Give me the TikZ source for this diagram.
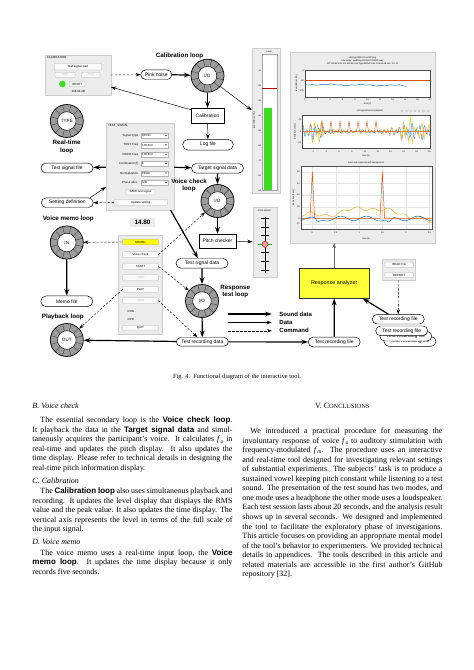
\documentclass[tikz,border=0pt]{standalone}
\usepackage{fontspec}
\setmainfont{Liberation Serif}
\setsansfont{Liberation Sans}
\usetikzlibrary{arrows.meta,positioning,shapes.misc,calc}
\newlength{\px}
\setlength{\px}{1.2553pt}
\definecolor{panelgray}{HTML}{ECECEC}
\definecolor{panelline}{HTML}{CCCCCC}
\definecolor{ringgray}{HTML}{9C9C9C}
\definecolor{analyzer}{HTML}{FFFF3A}
\definecolor{memoyellow}{HTML}{FFFF00}
\definecolor{levelgreen}{HTML}{3CDC1E}
\definecolor{plotblue}{HTML}{0072BD}
\definecolor{plotorange}{HTML}{EDB120}
\definecolor{plotred}{HTML}{D95319}
\newcommand{\fsub}[1]{\textit{f}\kern0.3pt\raisebox{-0.35ex}{\fontsize{7}{8}\selectfont\textit{#1}}}
\tikzset{
  guifont/.style={font=\sffamily\fontsize{3.7}{4.2}\selectfont},
  filebox/.style={rounded rectangle, draw, line width=0.6pt, fill=white,
    minimum width=52\px, minimum height=9.6\px, inner sep=0pt,
    font=\sffamily\fontsize{6.2}{7}\selectfont},
  procbox/.style={rectangle, draw, line width=0.6pt, fill=white, inner sep=0pt,
    font=\sffamily\fontsize{6.2}{7}\selectfont},
  ringline/.style={line width=0.5pt, draw=black!75},
  ioring/.style={circle, draw, line width=0.9pt, fill=ringgray, minimum size=33\px,
    inner sep=0pt, font=\sffamily\fontsize{5.8}{6}\selectfont,
    path picture={
      \foreach \a in {15,45,...,345}
        \draw[ringline] (path picture bounding box.center) ++(\a:9.3\px) -- ++(\a:8\px);
      \draw[line width=0.6pt, fill=white] (path picture bounding box.center) circle (9.3\px);
    }},
  looplabel/.style={inner sep=0pt, align=center, font=\sffamily\bfseries\fontsize{7.8}{9.3}\selectfont},
  panel/.style={rectangle, draw=panelline, line width=0.4pt, fill=panelgray, inner sep=0pt},
  guibtn/.style={rectangle, rounded corners=0.8pt, draw=gray!65, fill=gray!4, line width=0.3pt,
    inner sep=0pt, minimum height=5.7\px, guifont},
  guitext/.style={inner sep=0pt, guifont},
  dropbox/.style={rectangle, draw=gray!60, fill=white, line width=0.3pt, minimum height=5.3\px,
    text width=25\px, inner xsep=1.3\px, inner ysep=0pt, align=left, guifont},
  plottext/.style={inner sep=0pt, font=\sffamily\fontsize{2.8}{3.2}\selectfont},
  legendlab/.style={inner sep=0pt, anchor=west, font=\sffamily\bfseries\fontsize{7.5}{9}\selectfont},
  sound/.style={-{Stealth[length=8.5pt, width=6pt]}, line width=1.5pt},
  data/.style={-{Stealth[length=6.5pt, width=4.6pt]}, line width=0.6pt},
  command/.style={-{Stealth[length=6pt, width=4.2pt]}, line width=0.5pt, densely dashed},
  para/.style={anchor=north west, inner sep=0pt, text width=200\px, align=justify,
    font=\fontsize{10}{12}\selectfont},
  headtext/.style={anchor=base west, inner sep=0pt, font=\fontsize{10}{12}\selectfont\itshape}
}
\begin{document}
\begin{tikzpicture}[x=1.2553pt, y=-1.2553pt,
  declare function={
    bump(\u,\c,\w)=1/(1+((\u-\c)/\w)*((\u-\c)/\w)*((\u-\c)/\w)*((\u-\c)/\w));
    lor(\u,\c,\w)=1/(1+((\u-\c)/\w)*((\u-\c)/\w));
  }]
\fill[white] (0,0) rectangle (474,670);
\useasboundingbox (0,0) rectangle (474,670);

% calibration loop
\node[panel, minimum width=65.7\px, minimum height=40\px] (calpanel) at (77.9,75) {};
\node[guitext, anchor=west] (caltitle) at (46.7,57.5) {CALIBRATION};
\node[guibtn, minimum width=47.4\px, minimum height=6.7\px] (tsstart) at (78,66.7) {Test signal start};
\node[guibtn, text=gray!55, minimum width=20\px, minimum height=5\px] (calplay) at (65,74.8) {Start};
\node[guibtn, text=gray!55, minimum width=18.3\px, minimum height=5\px] (calstop) at (90.8,74.8) {Stop};
\node[circle, fill=levelgreen, minimum size=6.6\px, inner sep=0pt] (lamp) at (62.3,84) {};
\node[guibtn, minimum width=15.7\px, minimum height=5.4\px] (reset) at (77.2,84) {RESET};
\node[guitext] (calval) at (78.3,91) {108.64 dB};

\node[looplabel] (callab) at (179.5,55.7) {Calibration loop};
\node[filebox, minimum width=31\px] (pink) at (156.3,74.7) {Pink noise};
\node[ioring] (calio) at (207.5,75.7) {I/O};
\node[procbox, minimum width=33\px, minimum height=15\px] (calib) at (207.5,115.8) {Calibration};
\node[filebox, minimum width=50.7\px, minimum height=10.7\px] (logfile) at (208,144.7) {Log file};

% level display
\node[panel, minimum width=28.3\px, minimum height=145\px] (meter) at (265.9,120.5) {};
\fill[white] (261.7,54) rectangle (276.7,190.4);
\fill[levelgreen] (264.3,108.3) rectangle (271.7,190.4);
\draw[gray!70, line width=0.3pt] (261.7,54) rectangle (276.7,190.4);
\draw[red!75!black, line width=0.8pt] (261.7,88.3) -- (276.7,88.3);
\node[plottext] (metertitle) at (269.2,51.2) {Level};
\foreach \v [count=\i] in {-10,-20,-30,-40,-50,-60,-70,-80,-90} {
  \draw[gray!70, line width=0.3pt] (261.7,{56.3+14.9*\i}) -- ++(1.5,0);
  \node[plottext, anchor=east] at (261.2,{56.3+14.9*\i}) {\v};
}
\node[plottext, rotate=90] (meterylab) at (254.2,120.5) {level (dB rel. FS)};

% analysis plots
\node[panel, minimum width=145\px, minimum height=190.4\px] (plots) at (362.5,147.5) {};
\node[plottext] at (362.5,57.8) {Hilsinger/MD-CO-A7KP.png};
\node[plottext] at (362.5,61.1) {File name: audResp20211117000001.wav};
\node[plottext] at (362.5,64.4) {IUT:130.813 Hz Vol:130.813 Hz Type:MPND CAL:108.64 dB Set: 2 0 10};
\fill[white] (305,70) rectangle (430,96.7);
\draw[plotred, line width=0.6pt] (305,80) -- (430,80);
\draw[plotblue, line width=0.6pt] plot[domain=305:406.7, samples=80]
  (\x,{84.4+0.5*sin(11*(\x-305))+0.3*sin(37*(\x-305))+0.012*(\x-305)});
\draw[gray!60!black, line width=0.3pt] (305,70) rectangle (430,96.7);
\foreach \t [count=\i from 0] in {0,2,...,20}
  \node[plottext] at ({305+12.5*\i},99.5) {\t};
\node[plottext, anchor=east] at (304,71) {0};
\node[plottext, anchor=east] at (304,81) {-50};
\node[plottext, anchor=east] at (304,91) {-100};
\node[plottext, rotate=90] at (296.5,83.3) {level (dB rel. FS)};
\node[plottext] at (367.5,103.5) {time (s)};

\node[plottext] at (370,111) {orthogonalized modulation};
\foreach \k in {0,...,6}
  \draw[gray!60, line width=0.3pt] ({402+4.3*\k},111) circle (1.1\px);
\fill[white] (302.3,115) rectangle (430,148.3);
\begin{scope}
  \clip (302.3,115) rectangle (430,148.3);
  \draw[plotblue, line width=0.4pt] plot[domain=302.3:430, samples=260]
    (\x,{131.6+(0.8+4.5*bump(\x,312,12)+4.5*bump(\x,414,18))*(sin(89*(\x-300)+20)+0.6*sin(53*(\x-300)+100))});
  \draw[plotorange, line width=0.45pt] plot[domain=302.3:430, samples=260]
    (\x,{131.6+(1+5.5*bump(\x,312,12)+5.5*bump(\x,414,18))*(sin(97*(\x-300))+0.7*sin(61*(\x-300)+40)+0.5*sin(113*(\x-300)+70))});
  \draw[plotred, line width=0.5pt] (302.3,131.6)
    \foreach \s in {322,331,...,376} { -- ({\s-1.5},131.6) -- (\s,121) -- ({\s+1.5},131.6) }
    -- (430,131.6);
\end{scope}
\draw[gray!60!black, line width=0.3pt] (302.3,115) rectangle (430,148.3);
\foreach \t [count=\i from 1] in {2,4,...,20}
  \node[plottext] at ({300.4+12.9*\i},151.8) {\t};
\node[plottext, anchor=east] at (301.3,120) {20};
\node[plottext, anchor=east] at (301.3,131.6) {0};
\node[plottext, anchor=east] at (301.3,143.2) {-20};
\node[plottext, rotate=90] at (295,131.6) {deviation (cent)};
\node[plottext] at (366,155.8) {time (s)};

\node[plottext] at (366,163.3) {input and response with background};
\fill[white] (300.7,166) rectangle (431.7,229.3);
\foreach \gx in {312.3,335.7,359.3,382.3,406,429.3}
  \draw[gray!20, line width=0.25pt] (\gx,166) -- (\gx,229.3);
\foreach \gy in {171.7,183.3,195,206.7,218.3,224.2}
  \draw[gray!20, line width=0.25pt] (300.7,\gy) -- (431.7,\gy);
\begin{scope}
  \clip (300.7,166) rectangle (431.7,229.3);
  \draw[plotorange, line width=0.6pt] plot[domain=300.7:431.7, samples=120]
    (\x,{216.5-9*lor(\x,368,24)-2*sin(9*(\x-300))+1.5*sin(23*(\x-300)+30)+9*lor(\x,432,8)});
  \draw[plotblue, line width=0.6pt] plot[domain=300.7:431.7, samples=140]
    (\x,{218.3+2.2*sin(14*(\x-300)+60)+5*lor(\x,318,3)+5*lor(\x,389,3)-1.5*lor(\x,306,4)});
  \draw[plotred, line width=0.6pt] (300.7,218.3) -- (310,218.3) -- (312.3,171.7) -- (314.6,218.3)
    -- (380,218.3) -- (382.3,171.7) -- (384.6,218.3) -- (431.7,218.3);
\end{scope}
\draw[gray!60!black, line width=0.3pt] (300.7,166) rectangle (431.7,229.3);
\foreach \t/\gx in {0/312.3,0.5/335.7,1/359.3,1.5/382.3,2/406,2.5/429.3}
  \node[plottext] at (\gx,232.5) {\t};
\foreach \t/\gy in {80/171.7,60/183.3,40/195,20/206.7,0/218.3,-10/224.2}
  \node[plottext, anchor=east] at (299.7,\gy) {\t};
\node[plottext, rotate=90] at (293.6,197.7) {deviation (cent)};
\node[plottext] at (366,239) {time (s)};

% test signal settings
\node[panel, minimum width=68\px, minimum height=87\px] (sigpanel) at (140,166.5) {};
\node[guitext, anchor=west] (sigtitle) at (108,126.2) {TEST\_SIGNAL};
\foreach \lab/\val [count=\i] in {Signal Type/MPND, TEST Freq/130.813, VOICE Freq/130.813,
    Combination(f)/1, Normalization/PEAK, Phase alloc./SIN} {
  \node[guitext, anchor=east] (sl\i) at (138.3,{126.3+9.4*\i}) {\lab};
  \node[dropbox, anchor=west] (sd\i) at (140.7,{126.3+9.4*\i}) {\val};
  \fill[black!75] ([shift={(-3.6,-0.7)}]sd\i.east) -- ++(2,0) -- ++(-1,1.4) -- cycle;
}
\node[guibtn, minimum width=29\px] (savesig) at (140.5,192.2) {SAVE test signal};
\node[guibtn, minimum width=53.3\px, minimum height=6\px] (update) at (140.7,202.3) {Update setting};

\node[ioring] (typering) at (66.8,121) {TYPE};
\node[looplabel] (rtlab) at (66.7,147) {Real-time\\loop};
\node[filebox] (tsigfile) at (67,168) {Test signal file};
\node[filebox] (setdef) at (67.3,202.7) {Setting definition};

% voice check loop
\node[filebox] (target) at (217.5,168.3) {Target signal data};
\node[looplabel] (vclab) at (189,185.5) {Voice check\\loop};
\node[ioring] (vcio) at (217.5,201) {I/O};
\node[procbox, minimum width=36.7\px, minimum height=14.3\px] (pitchchk) at (217.5,241.2) {Pitch checker};
\node[panel, minimum width=24\px, minimum height=70\px] (pitchmon) at (264.7,241.7) {};
\node[plottext] (pmtitle) at (264.7,210.3) {Pitch Monitor};
\draw[line width=0.6pt] (265,216.7) -- (265,273.3);
\foreach \t in {218.3,226.7,235,252.6,261.2,269.8}
  \draw[line width=0.4pt] (261,\t) -- (269,\t);
\draw[green!70!black, line width=0.6pt] (258,244.3) -- (272,244.3);
\node[circle, draw=red!80!black, line width=0.6pt, fill=red!35, minimum size=6\px, inner sep=0pt] (pmark) at (265,244.3) {};

% voice memo and playback
\node[looplabel] (vmlab) at (68.3,219.3) {Voice memo loop};
\node[fill=panelgray, inner sep=0pt, minimum width=25\px, minimum height=8.4\px,
  font=\sffamily\bfseries\fontsize{8}{9}\selectfont] (timedisp) at (142.5,222.5) {14.80};
\node[ioring] (inring) at (66.8,242.5) {IN};
\node[filebox, minimum height=10.7\px] (memofile) at (66.8,301.3) {Memo file};
\node[looplabel] (pblab) at (62.8,317.3) {Playback loop};
\node[ioring] (outring) at (66.8,340) {OUT};

\node[panel, minimum width=43.4\px, minimum height=99.3\px] (btnpanel) at (140,284.7) {};
\node[guibtn, fill=memoyellow, minimum width=35.6\px] (memos) at (140.5,242) {MEMOs};
\node[guibtn, minimum width=35.6\px] (vcbtn) at (140.5,254.7) {Voice check};
\node[guibtn, minimum width=35.6\px] (startbtn) at (140.5,266.3) {START};
\node[guibtn, minimum width=35.6\px, text=gray!55] (stopbtn) at (140.5,277.7) {STOP};
\node[guibtn, minimum width=35.6\px] (playbtn) at (140.5,289.3) {PLAY};
\node[guibtn, minimum width=35.6\px, text=gray!55] (savebtn) at (140.5,300.7) {SAVE};
\node[guitext, anchor=west] (runlab) at (127.5,311) {RUN};
\node[guitext, anchor=west] (ovrlab) at (127.5,319) {OVR};
\node[guibtn, minimum width=35.6\px] (quitbtn) at (140.5,328) {QUIT};

% response test loop
\node[filebox] (tsigdata) at (202,263.3) {Test signal data};
\node[ioring] (respio) at (202,301) {I/O};
\node[looplabel] (rtllab) at (235.3,291.7) {Response\\test loop};
\node[filebox, minimum height=8.6\px] (trecdata) at (202.3,341.8) {Test recording data};

\node[rectangle, draw=black!80, line width=0.6pt, fill=analyzer, minimum width=69.7\px,
  minimum height=30\px, font=\sffamily\fontsize{6.8}{8}\selectfont] (analyzer) at (334.2,283.3) {Response analyzer};
\node[filebox] (trecfile) at (334.2,342) {Test recording file};
\node[panel, minimum width=32.3\px, minimum height=20.7\px] (readpanel) at (398.8,269.7) {};
\node[guibtn, minimum width=28.3\px, minimum height=5.3\px] (readbtn) at (399.2,264.7) {READ File};
\node[guibtn, minimum width=28.3\px, minimum height=5.3\px] (reportbtn) at (399.2,275) {REPORT};
\node[filebox] (stack3) at (410,341.5) {Test recording file};
\node[filebox] (stack2) at (405.8,336.2) {Test recording file};
\node[filebox] (stack1) at (401.7,330.8) {Test recording file};
\node[filebox] (recfile) at (398.3,319.2) {Test recording file};

% legend
\coordinate (lgsound) at (228.3,314);
\coordinate (lgdata) at (228.3,322.5);
\coordinate (lgcmd) at (228.3,330.8);
\node[legendlab] (lsound) at (279.3,314) {Sound data};
\node[legendlab] (ldata) at (279.3,322.5) {Data};
\node[legendlab] (lcmd) at (279.3,330.8) {Command};
\draw[sound, shorten >=9.5pt] (lgsound) -- (lsound.west);
\draw[data, shorten >=9.5pt] (lgdata) -- (ldata.west);
\draw[command, shorten >=9.5pt] (lgcmd) -- (lcmd.west);

% connectors
\draw[command] (calpanel.east) -- (pink.west);
\draw[sound] (pink.east) -- (calio);
\draw[sound] (calio) -- (calib);
\draw[data] (calio.-40) -- (meter.144);
\draw[data] (calib.160) -- (calpanel.-20);
\draw[data] (calib) -- (logfile);
\draw[sound] (sigpanel) -- (tsigfile);
\draw[sound] (sigpanel) -- (target);
\draw[data] (setdef.12) -- (sigpanel.211);
\draw[command] (update.west) -- (setdef.east);
\draw[sound] (target) -- (vcio);
\draw[sound] (vcio) -- (pitchchk);
\draw[data] (pitchchk.east) -- (pitchmon.west);
\draw[sound] (sigpanel.-55) -- ([xshift=-4\px]tsigdata.north);
\draw[command] (memos.west) -- (inring);
\draw[sound] (inring) -- (memofile);
\draw[command] (vcbtn.east) -- (vcio);
\draw[command] (startbtn.east) -- (respio);
\draw[command] (savebtn.east) -- (trecdata);
\draw[command] (playbtn.west) -- (outring);
\draw[sound] (tsigdata) -- (respio);
\draw[sound] (respio) -- (trecdata);
\draw[sound] (trecdata) -- (outring);
\draw[sound] (trecdata) -- (trecfile);
\draw[sound] (trecfile) -- (analyzer);
\draw[sound] (recfile.153) -- (analyzer.-28);
\draw[command] (readpanel.south) -- (recfile.north);
\draw[data, draw=black!60] (analyzer.north) -- (analyzer.north |- plots.south);

% caption and text
\node[anchor=base, inner sep=0pt, font=\fontsize{8}{9.6}\selectfont] (caption) at (237,378)
  {Fig. 4.\ \ Functional diagram of the interactive tool.};
\node[headtext] (headb) at (32.3,408.7) {B. Voice check};
\node[para] (parab) at (32.3,415.8) {\strut\hspace*{10pt}The essential secondary loop is the \textsf{\textbf{Voice check loop}}.\linebreak
It playback the data in the \textsf{\textbf{Target signal data}} and simul-\linebreak
taneously acquires the participant's voice. It calculates \fsub{o} in\linebreak
real-time and updates the pitch display. It also updates the\linebreak
time display. Please refer to technical details in designing the\linebreak
real-time pitch information display.};
\node[headtext] (headc) at (32.3,483) {C. Calibration};
\node[para] (parac) at (32.3,486.8) {\strut\hspace*{10pt}The \textsf{\textbf{Calibration loop}} also uses simultaneous playback and\linebreak
recording. It updates the level display that displays the RMS\linebreak
value and the peak value. It also updates the time display. The\linebreak
vertical axis represents the level in terms of the full scale of\linebreak
the input signal.};
\node[headtext] (headd) at (32.3,544.4) {D. Voice memo};
\node[para] (parad) at (32.3,548.2) {\strut\hspace*{10pt}The voice memo uses a real-time input loop, the \textsf{\textbf{Voice}}\linebreak
\textsf{\textbf{memo loop}}. It updates the time display because it only\linebreak
records five seconds.};
\node[anchor=base, inner sep=0pt, font=\fontsize{10}{12}\selectfont] (headv) at (342.3,408.7)
  {V. C{\fontsize{8}{9.6}\selectfont ONCLUSIONS}};
\node[para] (parav) at (242.3,426.6) {\strut\hspace*{10pt}We introduced a practical procedure for measuring the\linebreak
involuntary response of voice \fsub{o} to auditory stimulation with\linebreak
frequency-modulated \fsub{m}. The procedure uses an interactive\linebreak
and real-time tool designed for investigating relevant settings\linebreak
of substantial experiments. The subjects' task is to produce a\linebreak
sustained vowel keeping pitch constant while listening to a test\linebreak
sound. The presentation of the test sound has two modes, and\linebreak
one mode uses a headphone the other mode uses a loudspeaker.\linebreak
Each test session lasts about 20 seconds, and the analysis result\linebreak
shows up in several seconds. We designed and implemented\linebreak
the tool to facilitate the exploratory phase of investigations.\linebreak
This article focuses on providing an appropriate mental model\linebreak
of the tool's behavior to experimenters. We provided technical\linebreak
details in appendices. The tools described in this article and\linebreak
related materials are accessible in the first author's GitHub\linebreak
repository [32].};
\end{tikzpicture}
\end{document}
